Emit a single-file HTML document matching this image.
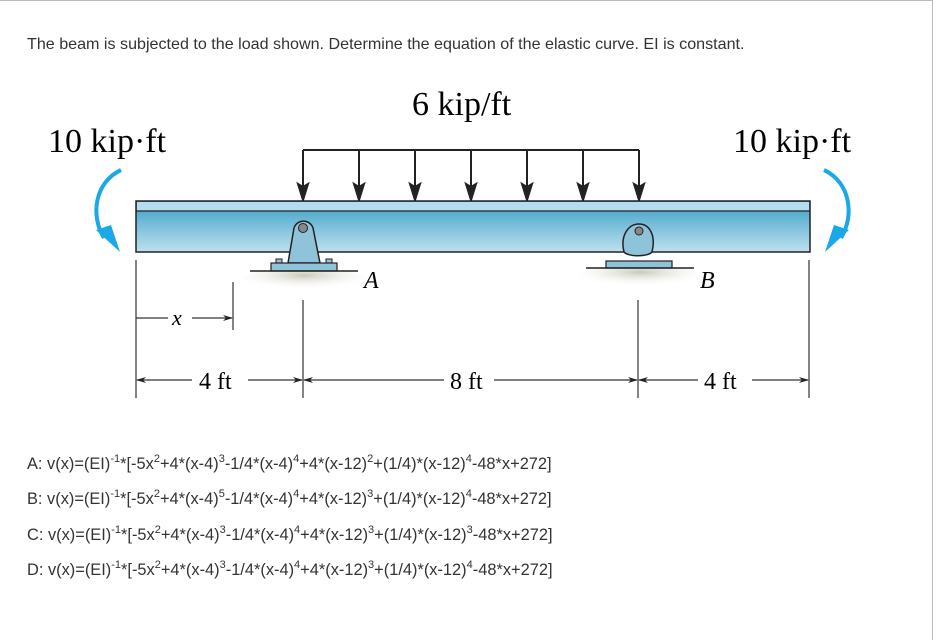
<!DOCTYPE html>
<html><head><style>
body{margin:0;background:#fff;width:939px;height:617px;overflow:hidden;position:relative;font-family:"Liberation Sans",Arial,sans-serif;}
.q{position:absolute;left:27px;top:35px;font-size:16.1px;color:#333;white-space:nowrap;}
.o{position:absolute;left:27px;font-size:16.4px;color:#333;white-space:nowrap;}
sup{font-size:11px;vertical-align:7px;line-height:0;}
.bd{position:absolute;left:0;top:0;width:933px;height:640px;border-top:1px solid #bbb;border-right:1px solid #bbb;box-sizing:border-box;}
</style></head><body>
<div class="bd"></div>
<div class="q">The beam is subjected to the load shown. Determine the equation of the elastic curve. EI is constant.</div>
<svg width="939" height="617" style="position:absolute;left:0;top:0" font-family="Liberation Serif,serif">
<defs>
<linearGradient id="g" x1="0" y1="0" x2="0" y2="1">
<stop offset="0" stop-color="#3a9fc0"/><stop offset="0.5" stop-color="#7cc0dc"/><stop offset="1" stop-color="#bfe0ef"/></linearGradient>
<radialGradient id="sh" cx="0.5" cy="0.3" r="0.6"><stop offset="0" stop-color="#c9c8b8"/><stop offset="1" stop-color="#fff" stop-opacity="0"/></radialGradient>
<marker id="ah" markerWidth="10" markerHeight="8" refX="9" refY="4" orient="auto" markerUnits="userSpaceOnUse"><path d="M0,1 L10,4 L0,7 L3,4z" fill="#222"/></marker>
</defs>
<text x="412" y="115" font-size="34">6 kip/ft</text>
<text x="48" y="152" font-size="34">10 kip·ft</text>
<text x="733" y="152" font-size="34">10 kip·ft</text>
<line x1="303" y1="150" x2="639" y2="150" stroke="#222" stroke-width="2"/>
<g stroke="#222" stroke-width="2" fill="#222">
<line x1="303" y1="150" x2="303" y2="188"/><path d="M298,184 L303,200 L308,184 L303,187z"/>
<line x1="359" y1="150" x2="359" y2="188"/><path d="M354,184 L359,200 L364,184 L359,187z"/>
<line x1="415" y1="150" x2="415" y2="188"/><path d="M410,184 L415,200 L420,184 L415,187z"/>
<line x1="471" y1="150" x2="471" y2="188"/><path d="M466,184 L471,200 L476,184 L471,187z"/>
<line x1="527" y1="150" x2="527" y2="188"/><path d="M522,184 L527,200 L532,184 L527,187z"/>
<line x1="583" y1="150" x2="583" y2="188"/><path d="M578,184 L583,200 L588,184 L583,187z"/>
<line x1="639" y1="150" x2="639" y2="188"/><path d="M634,184 L639,200 L644,184 L639,187z"/>
</g>
<path d="M121,170 C95,182 90,215 104,238" stroke="#1aa8e6" stroke-width="4" fill="none"/>
<path d="M96,230 L120,252 L111,225z" fill="#1aa8e6"/>
<path d="M824,170 C850,182 855,215 841,238" stroke="#1aa8e6" stroke-width="4" fill="none"/>
<path d="M849,230 L825,252 L834,225z" fill="#1aa8e6"/>
<rect x="136" y="201" width="674" height="51" fill="url(#g)" stroke="#222" stroke-width="1.5"/>
<rect x="137" y="202" width="672" height="9" fill="#b5dcee"/>
<line x1="136" y1="211" x2="810" y2="211" stroke="#222" stroke-width="1.2"/>
<ellipse cx="304" cy="280" rx="62" ry="12" fill="url(#sh)"/>
<ellipse cx="640" cy="277" rx="62" ry="12" fill="url(#sh)"/>
<path d="M288,263 L294,228 A10,10 0 0 1 313,228 L320,263z" fill="#8ec3da" stroke="#222" stroke-width="1.5"/>
<circle cx="303" cy="228" r="4.5" fill="#888" stroke="#222"/>
<rect x="276" y="259" width="6" height="4" fill="#8ec3da" stroke="#222"/>
<rect x="326" y="259" width="6" height="4" fill="#8ec3da" stroke="#222"/>
<rect x="271" y="263" width="66" height="8" fill="#8ec3da" stroke="#222" stroke-width="1.2"/>
<line x1="250" y1="271" x2="358" y2="271" stroke="#222" stroke-width="1.5"/>
<path d="M624,252 C620,236 628,224 639,224 C650,224 656,236 652,252 C648,257 628,257 624,252z" fill="#8ec3da" stroke="#222" stroke-width="1.5"/>
<circle cx="639" cy="231" r="4" fill="#888" stroke="#222"/>
<rect x="606" y="261" width="66" height="7" fill="#8ec3da" stroke="#222" stroke-width="1.2"/>
<line x1="586" y1="268" x2="694" y2="268" stroke="#222" stroke-width="1.5"/>
<text x="364" y="288" font-size="24" font-style="italic">A</text>
<text x="700" y="288" font-size="24" font-style="italic">B</text>
<g stroke="#333" stroke-width="1.2">
<line x1="136" y1="260" x2="136" y2="398"/>
<line x1="303" y1="300" x2="303" y2="398"/>
<line x1="638" y1="300" x2="638" y2="398"/>
<line x1="809" y1="260" x2="809" y2="398"/>
<line x1="233" y1="282" x2="233" y2="330"/>
<line x1="136" y1="318" x2="168" y2="318"/>
<line x1="192" y1="318" x2="232" y2="318" marker-end="url(#ah)"/>
<line x1="192" y1="380" x2="137" y2="380" marker-end="url(#ah)"/>
<line x1="248" y1="380" x2="302" y2="380" marker-end="url(#ah)"/>
<line x1="444" y1="380" x2="304" y2="380" marker-end="url(#ah)"/>
<line x1="494" y1="380" x2="637" y2="380" marker-end="url(#ah)"/>
<line x1="698" y1="380" x2="639" y2="380" marker-end="url(#ah)"/>
<line x1="752" y1="380" x2="808" y2="380" marker-end="url(#ah)"/>
</g>
<text x="172" y="325" font-size="22" font-style="italic">x</text>
<text x="199" y="389" font-size="24">4 ft</text>
<text x="450" y="389" font-size="24">8 ft</text>
<text x="704" y="389" font-size="24">4 ft</text>
</svg>
<div class="o" style="top:455px">A: v(x)=(EI)<sup>-1</sup>*[-5x<sup>2</sup>+4*(x-4)<sup>3</sup>-1/4*(x-4)<sup>4</sup>+4*(x-12)<sup>2</sup>+(1/4)*(x-12)<sup>4</sup>-48*x+272]</div>
<div class="o" style="top:490px">B: v(x)=(EI)<sup>-1</sup>*[-5x<sup>2</sup>+4*(x-4)<sup>5</sup>-1/4*(x-4)<sup>4</sup>+4*(x-12)<sup>3</sup>+(1/4)*(x-12)<sup>4</sup>-48*x+272]</div>
<div class="o" style="top:526px">C: v(x)=(EI)<sup>-1</sup>*[-5x<sup>2</sup>+4*(x-4)<sup>3</sup>-1/4*(x-4)<sup>4</sup>+4*(x-12)<sup>3</sup>+(1/4)*(x-12)<sup>3</sup>-48*x+272]</div>
<div class="o" style="top:561px">D: v(x)=(EI)<sup>-1</sup>*[-5x<sup>2</sup>+4*(x-4)<sup>3</sup>-1/4*(x-4)<sup>4</sup>+4*(x-12)<sup>3</sup>+(1/4)*(x-12)<sup>4</sup>-48*x+272]</div>
</body></html>
